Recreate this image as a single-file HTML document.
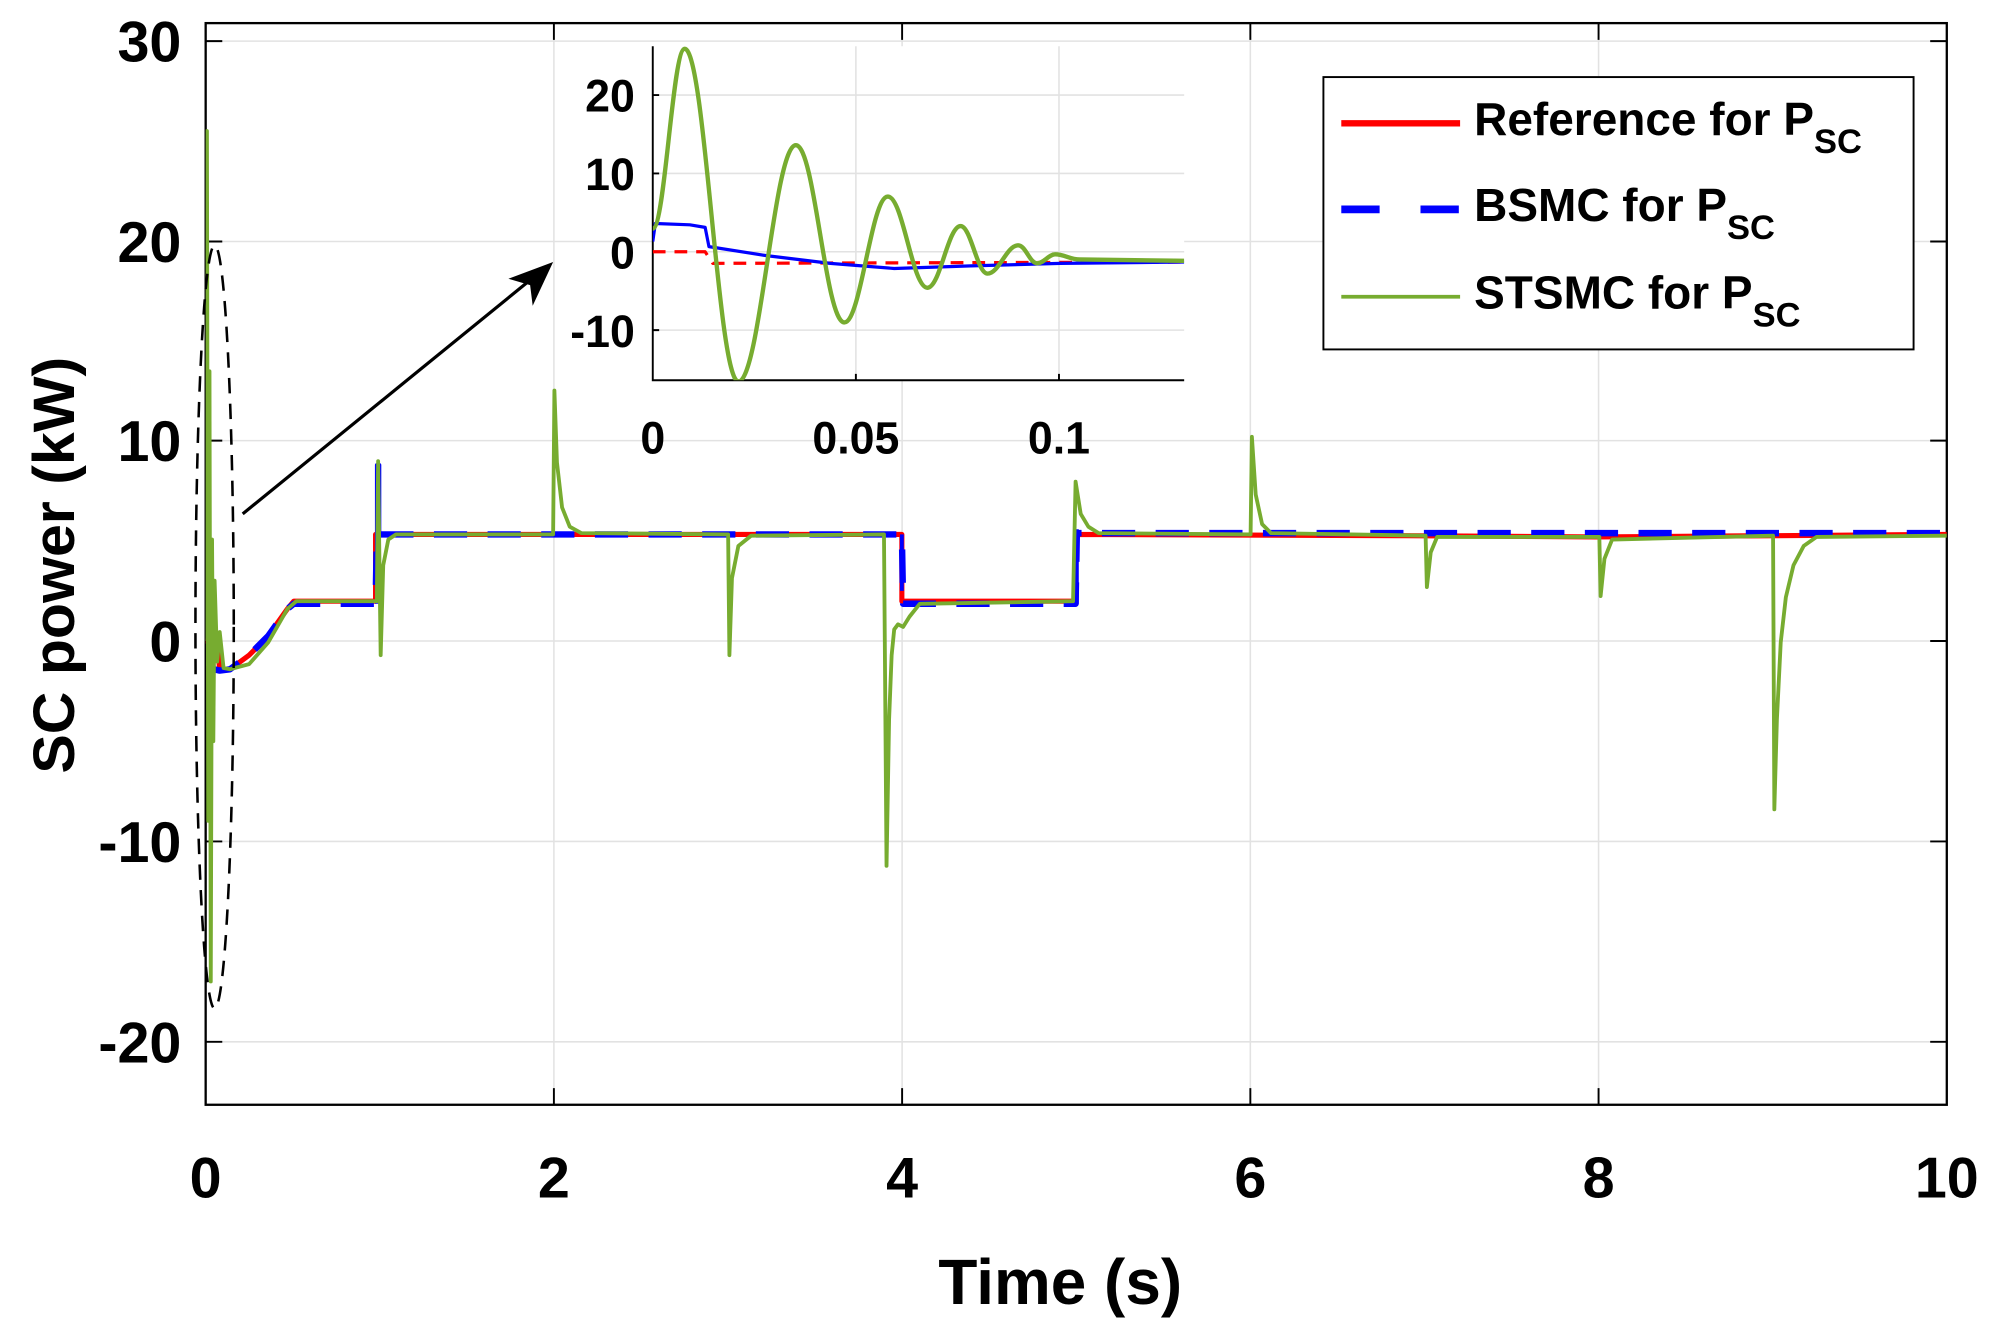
<!DOCTYPE html>
<html><head><meta charset="utf-8"><style>
html,body{margin:0;padding:0;background:#fff;}
svg{display:block;}
text{font-family:"Liberation Sans",Arial,sans-serif;font-weight:bold;fill:#000;}
</style></head><body>
<svg width="2003" height="1336" viewBox="0 0 1568 1040" preserveAspectRatio="none" xmlns="http://www.w3.org/2000/svg">
<defs>
<clipPath id="mc"><rect x="161" y="18" width="1363" height="842"/></clipPath>
<clipPath id="ic"><rect x="511" y="36" width="416" height="260"/></clipPath>
</defs>
<rect x="0" y="0" width="1568" height="1040" fill="#fff"/>
<g stroke="#e2e2e2" stroke-width="1.2">
<line x1="433.6" y1="18" x2="433.6" y2="860"/><line x1="706.2" y1="18" x2="706.2" y2="860"/>
<line x1="978.8" y1="18" x2="978.8" y2="860"/><line x1="1251.4" y1="18" x2="1251.4" y2="860"/>
<line x1="161" y1="32" x2="1524" y2="32"/><line x1="161" y1="188" x2="1524" y2="188"/>
<line x1="161" y1="343" x2="1524" y2="343"/><line x1="161" y1="499" x2="1524" y2="499"/>
<line x1="161" y1="655" x2="1524" y2="655"/><line x1="161" y1="811" x2="1524" y2="811"/>
</g>
<g stroke="#000" stroke-width="1.5">
<path d="M161 32h13M161 188h13M161 343h13M161 499h13M161 655h13M161 811h13"/>
<path d="M1524 32h-13M1524 188h-13M1524 343h-13M1524 499h-13M1524 655h-13M1524 811h-13"/>
<path d="M433.6 860v-13M706.2 860v-13M978.8 860v-13M1251.4 860v-13"/>
<path d="M433.6 18v13M706.2 18v13M978.8 18v13M1251.4 18v13"/>
</g>
<rect x="161" y="18" width="1363" height="842" fill="none" stroke="#000" stroke-width="1.8"/>
<g clip-path="url(#mc)" fill="none" stroke-linejoin="round">
<path stroke="#ff0000" stroke-width="4" d="M161 499L170 499L172 522L180 521L195 510L210 495L225 474L230 468L294 468L294 416L706 416L706 468L842 468L842 416L1100 417L1250 418L1524 416"/>
<path stroke="#0000ff" stroke-width="5" stroke-dasharray="26 16" d="M163 520L172 522L180 521L195 510L210 495L225 474L230 470L294 470L295 416L706 416L707 470L842 470L843 415L1524 415"/>
<path stroke="#0000ff" stroke-width="3" d="M295 470L295 362L297 362L297 416M706 416L706 460M843 470L843 412"/>
<path stroke="#77ac30" stroke-width="3" d="M161 499L162 102L163 639L164 289L165 764L166 420L167 577L168 452L170 515L172 492L175 520L180 521L195 517L210 500L225 474L232 468L295 468L296 359L298 510L300 440L304 420L310 416L433 416L434 304L436 360L440 395L446 410L455 415L570 416L571 510L573 450L578 425L588 417L692 416L694 674L696 560L698 510L700 490L703 486L707 488L712 480L720 470L840 468L842 375L846 400L852 410L860 415L979 416L980 340L983 385L988 408L995 415L1116 417L1117 457L1120 430L1125 418L1252 418L1253 464L1256 435L1262 420L1388 417L1389 630L1391 560L1394 500L1398 465L1404 440L1412 425L1422 418L1524 417"/>
</g>
<ellipse cx="168" cy="488" rx="15" ry="297" fill="none" stroke="#000" stroke-width="2" stroke-dasharray="12 8"/>
<line x1="190" y1="400" x2="420" y2="214" stroke="#000" stroke-width="2.5"/>
<polygon points="433,204 398,217 415,222 417,238" fill="#000"/>
<rect x="511" y="36" width="416" height="260" fill="#fff"/>
<g stroke="#e2e2e2" stroke-width="1.2">
<line x1="670" y1="36" x2="670" y2="296"/><line x1="829" y1="36" x2="829" y2="296"/>
<line x1="511" y1="74" x2="927" y2="74"/><line x1="511" y1="135" x2="927" y2="135"/>
<line x1="511" y1="196" x2="927" y2="196"/><line x1="511" y1="257" x2="927" y2="257"/>
</g>
<g stroke="#000" stroke-width="1.5" fill="none">
<path d="M511 36V296H927"/>
<path d="M511 74h5M511 135h5M511 196h5M511 257h5M670 296v-5M829 296v-5"/>
</g>
<g clip-path="url(#ic)" fill="none" stroke-linejoin="round">
<path stroke="#ff0000" stroke-width="2.5" stroke-dasharray="10 7" d="M511 196L552 196L558 205L927 204"/>
<path stroke="#0000ff" stroke-width="2.5" d="M511 188L513 174L540 175L552 177L555 192L600 199L650 205L700 209L760 207L830 205L927 204"/>
<path stroke="#77ac30" stroke-width="3.4" d="M511 178C520.6 178 526.4 38 536 38C552 38 562 297 578 297C595 297 606 113 623 113C638 113 646 251 661 251C674 251 682 153 695 153C707 153 714 224 726 224C736 224 742 176 752 176C760 176 765 213 773 213C782 213 788 191 797 191C803 191 806 205 812 205C817 205 821 198 826 198C833 198 838 202 845 202L927 203"/>
</g>
<g font-size="35" text-anchor="end">
<text x="497" y="87">20</text><text x="497" y="148">10</text><text x="497" y="209">0</text><text x="497" y="270">-10</text>
</g>
<g font-size="35" text-anchor="middle">
<text x="511" y="353">0</text><text x="670" y="353">0.05</text><text x="829" y="353">0.1</text>
</g>
<rect x="1036" y="60" width="462" height="212" fill="#fff" stroke="#000" stroke-width="1.5"/>
<line x1="1050" y1="96" x2="1143" y2="96" stroke="#ff0000" stroke-width="5"/>
<line x1="1050" y1="163" x2="1143" y2="163" stroke="#0000ff" stroke-width="6" stroke-dasharray="30 32"/>
<line x1="1050" y1="231" x2="1143" y2="231" stroke="#77ac30" stroke-width="3"/>
<g font-size="36">
<text x="1154" y="105">Reference for P<tspan font-size="27" dy="14">SC</tspan></text>
<text x="1154" y="172">BSMC for P<tspan font-size="27" dy="14">SC</tspan></text>
<text x="1154" y="240">STSMC for P<tspan font-size="27" dy="14">SC</tspan></text>
</g>
<g font-size="45" text-anchor="end">
<text x="142" y="48">30</text><text x="142" y="204">20</text><text x="142" y="359">10</text>
<text x="142" y="515">0</text><text x="142" y="671">-10</text><text x="142" y="827">-20</text>
</g>
<g font-size="45" text-anchor="middle">
<text x="161" y="932">0</text><text x="433.6" y="932">2</text><text x="706.2" y="932">4</text>
<text x="978.8" y="932">6</text><text x="1251.4" y="932">8</text><text x="1524" y="932">10</text>
</g>
<text x="830" y="1015" font-size="50" text-anchor="middle">Time (s)</text>
<text transform="translate(58,440) rotate(-90)" font-size="46" text-anchor="middle">SC power (kW)</text>
</svg>
</body></html>
